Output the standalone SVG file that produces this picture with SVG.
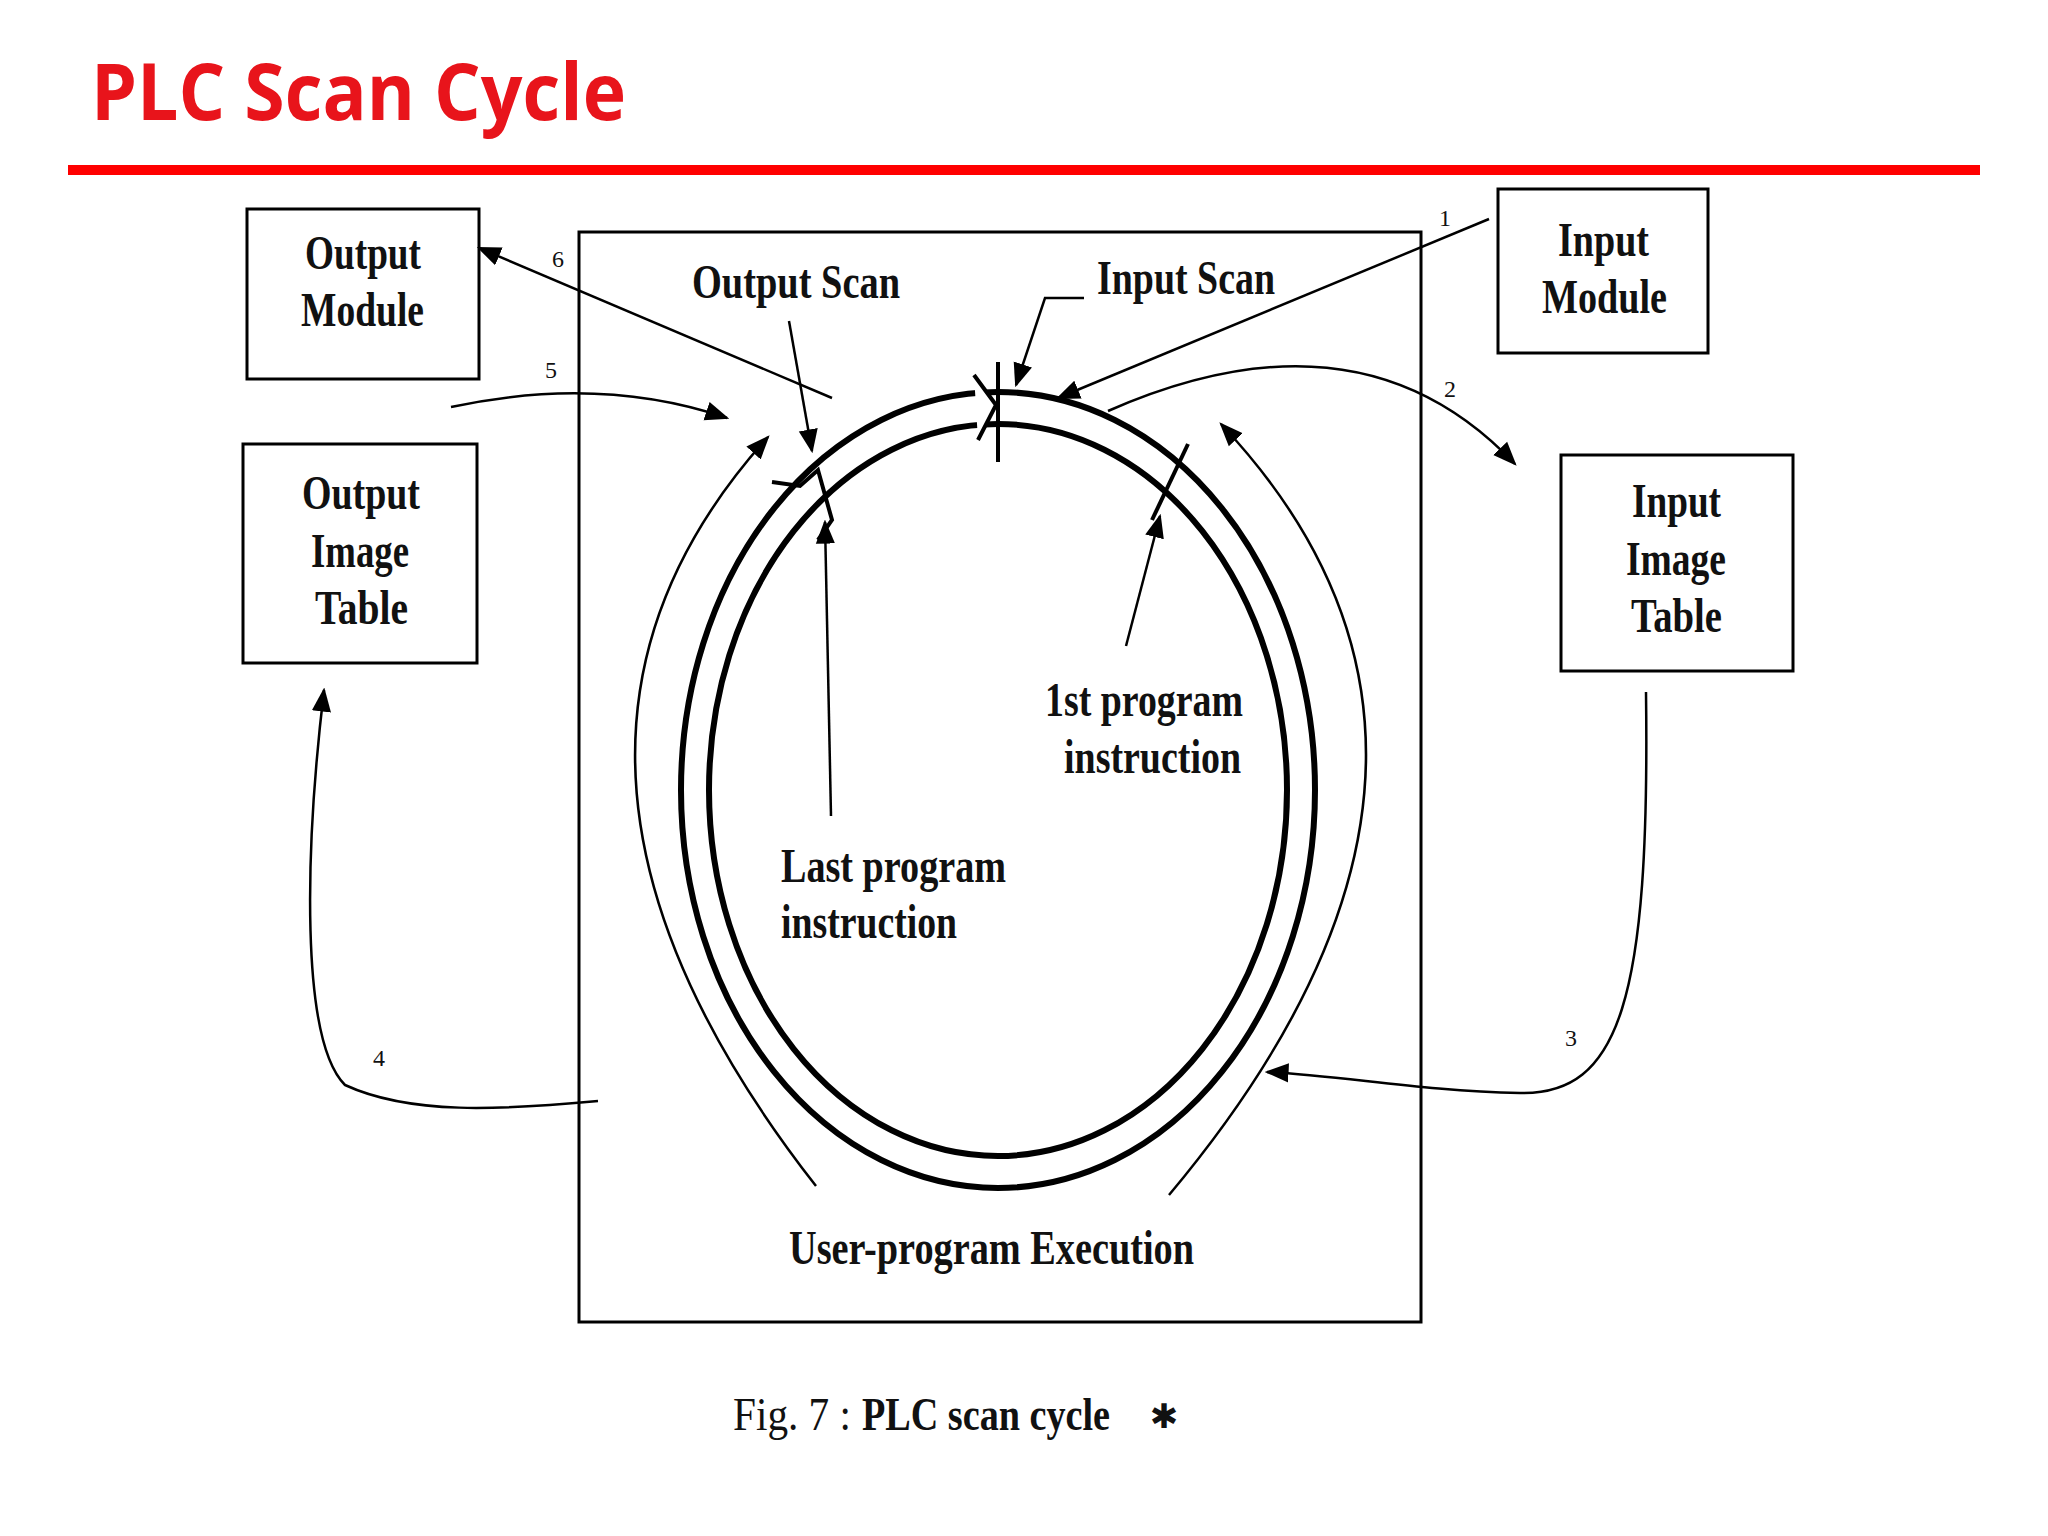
<svg xmlns="http://www.w3.org/2000/svg" width="2048" height="1536" viewBox="0 0 2048 1536">
<defs>
<marker id="ahb" viewBox="0 0 10 10" refX="9" refY="5" markerWidth="24" markerHeight="24" markerUnits="userSpaceOnUse" orient="auto"><path d="M0 1 L10 5 L0 9 z" fill="#000"/></marker>
<style>
.box{fill:#fff;stroke:#000;stroke-width:3}
.t{font-family:"Liberation Serif",serif;font-weight:bold;font-size:48px;fill:#111}
.n{font-family:"Liberation Serif",serif;font-size:24px;fill:#111}
.c{fill:none;stroke:#000;stroke-width:2.5}
.ring{fill:none;stroke:#000;stroke-width:6}
</style>
</defs>
<rect width="2048" height="1536" fill="#fff"/>
<text x="91" y="120" font-family="'Open Sans','Liberation Sans',sans-serif" font-weight="bold" font-size="78" fill="#e8141b" textLength="535" lengthAdjust="spacingAndGlyphs">PLC Scan Cycle</text>
<rect x="68" y="165" width="1912" height="10" fill="#f00"/>
<rect x="579" y="232" width="842" height="1090" fill="none" stroke="#000" stroke-width="3"/>
<g id="output-module"><rect class="box" x="247" y="209" width="232" height="170"/>
<text class="t" x="305" y="269" textLength="116" lengthAdjust="spacingAndGlyphs">Output</text>
<text class="t" x="301" y="326" textLength="123" lengthAdjust="spacingAndGlyphs">Module</text></g>
<g id="output-image-table"><rect class="box" x="243" y="444" width="234" height="219"/>
<text class="t" x="302" y="509" textLength="118" lengthAdjust="spacingAndGlyphs">Output</text>
<text class="t" x="311" y="567" textLength="98" lengthAdjust="spacingAndGlyphs">Image</text>
<text class="t" x="315" y="624" textLength="93" lengthAdjust="spacingAndGlyphs">Table</text></g>
<g id="input-module"><rect class="box" x="1498" y="189" width="210" height="164"/>
<text class="t" x="1558" y="256" textLength="91" lengthAdjust="spacingAndGlyphs">Input</text>
<text class="t" x="1542" y="313" textLength="125" lengthAdjust="spacingAndGlyphs">Module</text></g>
<g id="input-image-table"><rect class="box" x="1561" y="455" width="232" height="216"/>
<text class="t" x="1632" y="517" textLength="89" lengthAdjust="spacingAndGlyphs">Input</text>
<text class="t" x="1626" y="575" textLength="100" lengthAdjust="spacingAndGlyphs">Image</text>
<text class="t" x="1631" y="632" textLength="91" lengthAdjust="spacingAndGlyphs">Table</text></g>
<g id="ring">
<ellipse class="ring" cx="998" cy="790" rx="317" ry="398"/>
<ellipse class="ring" cx="998" cy="790" rx="289" ry="366"/>
<line x1="998" y1="362" x2="998" y2="462" stroke="#000" stroke-width="4"/>
<path d="M974 375 L996 405 L978 440" fill="#fff" stroke="#000" stroke-width="4"/>
<path d="M772 482 L800 486 L818 470 L832 520 L818 540" fill="none" stroke="#000" stroke-width="4"/>
<line x1="1188" y1="444" x2="1152" y2="520" stroke="#000" stroke-width="4"/>
</g>
<g id="labels">
<text class="t" x="692" y="298" textLength="208" lengthAdjust="spacingAndGlyphs">Output Scan</text>
<text class="t" x="1097" y="294" textLength="178" lengthAdjust="spacingAndGlyphs">Input Scan</text>
<text class="t" x="1045" y="716" textLength="198" lengthAdjust="spacingAndGlyphs">1st program</text>
<text class="t" x="1064" y="773" textLength="177" lengthAdjust="spacingAndGlyphs">instruction</text>
<text class="t" x="781" y="882" textLength="225" lengthAdjust="spacingAndGlyphs">Last program</text>
<text class="t" x="781" y="938" textLength="176" lengthAdjust="spacingAndGlyphs">instruction</text>
<text class="t" x="789" y="1264" textLength="405" lengthAdjust="spacingAndGlyphs">User-program Execution</text>
<text x="733" y="1430" font-family="'Liberation Serif',serif" font-size="46" fill="#111" textLength="118" lengthAdjust="spacingAndGlyphs">Fig.  7 :</text>
<text x="862" y="1430" font-family="'Liberation Serif',serif" font-weight="bold" font-size="46" fill="#111" textLength="248" lengthAdjust="spacingAndGlyphs">PLC scan cycle</text>
<text x="1164" y="1428" font-family="'DejaVu Sans',sans-serif" font-weight="bold" font-size="34" fill="#111" text-anchor="middle">✱</text>
<text class="n" x="1439" y="226">1</text>
<text class="n" x="1444" y="397">2</text>
<text class="n" x="1565" y="1046">3</text>
<text class="n" x="373" y="1066">4</text>
<text class="n" x="545" y="378">5</text>
<text class="n" x="552" y="267">6</text>
</g>
<g id="connectors">
<line class="c" x1="1489" y1="219" x2="1058" y2="398" marker-end="url(#ahb)"/>
<path class="c" d="M1108 411 Q1360 300 1515 464" marker-end="url(#ahb)"/>
<path class="c" d="M1646 692 C1650 1000 1620 1095 1520 1093 C1420 1091 1340 1075 1267 1072" marker-end="url(#ahb)"/>
<path class="c" d="M598 1101 C500 1110 410 1115 345 1085 C300 1040 305 850 324 690" marker-end="url(#ahb)"/>
<path class="c" d="M451 407 Q600 375 727 418" marker-end="url(#ahb)"/>
<line class="c" x1="832" y1="398" x2="479" y2="248" marker-end="url(#ahb)"/>
<line class="c" x1="789" y1="321" x2="812" y2="451" marker-end="url(#ahb)"/>
<polyline class="c" points="1084,298 1045,298 1016,385" marker-end="url(#ahb)"/>
<line class="c" x1="1126" y1="646" x2="1160" y2="516" marker-end="url(#ahb)"/>
<line class="c" x1="831" y1="816" x2="825" y2="522" marker-end="url(#ahb)"/>
<path class="c" d="M816 1186 Q480 756 768 437" marker-end="url(#ahb)"/>
<path class="c" d="M1169 1195 Q1535 758 1221 424" marker-end="url(#ahb)"/>
</g>
</svg>
